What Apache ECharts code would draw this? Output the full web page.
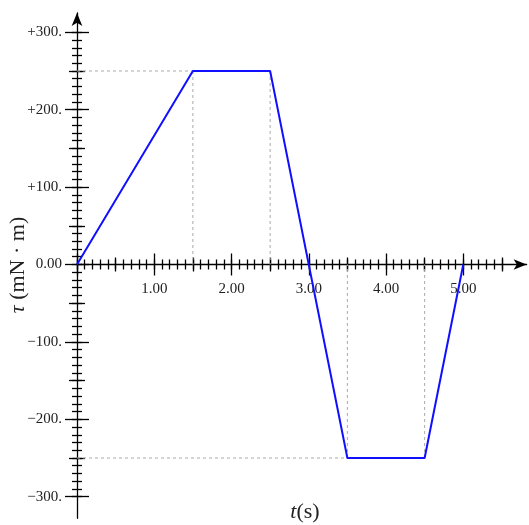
<!DOCTYPE html>
<html>
<head>
<meta charset="utf-8">
<script src="https://cdn.jsdelivr.net/npm/echarts@6/dist/echarts.min.js"></script>
<style>html,body{margin:0;padding:0;background:#fff;}#c{width:529px;height:525px;}</style>
</head>
<body>
<div id="c"></div>
<script>
// Data
var timeS = [0, 1.5, 2.5, 3.5, 4.5, 5.0];
var torque = [0, 250, 250, -250, -250, 0];
var xTickLabels = [1, 2, 3, 4, 5];
var yTickLabels = [-300, -200, -100, 0, 100, 200, 300];

var XMIN = 0, XMAX = 5.82, YMIN = -328, YMAX = 325;
var GRID_LEFT = 77, GRID_W = 449.6, GRID_TOP = 12.95, GRID_H = 505.4;

function range(a, b, step) {
  var out = [];
  var n = Math.round((b - a) / step);
  for (var i = 0; i <= n; i++) out.push(+(a + i * step).toFixed(6));
  return out;
}
var xMajor = range(0, 5, 1);
var xMed = range(0.5, 5.5, 1);
var xMinor = range(0, 5.5, 0.1);
var yMajor = range(-300, 300, 100);
var yMed = range(-250, 250, 100);
var yMinor = range(-300, 300, 10);

var serif = 'Liberation Serif';
var tickColor = '#000';

function mkX(vals, len, inside, showLine) {
  return {
    type: 'value', min: XMIN, max: XMAX, position: 'bottom',
    axisLine: { show: !!showLine, onZero: true, onZeroAxisIndex: 0,
      symbol: ['none', 'arrow'], symbolSize: [8, 13],
      lineStyle: { color: '#000', width: 1.3 } },
    axisTick: { show: true, inside: inside, length: len, customValues: vals,
      lineStyle: { color: tickColor, width: 1.3 } },
    axisLabel: { show: false },
    splitLine: { show: false }
  };
}
function fmtY(v) {
  if (v === 0) return '0.00';
  if (v > 0) return '+' + v + '.';
  return '\u2212' + Math.abs(v) + '.';
}
function mkY(vals, len, inside, showLine, labels) {
  return {
    type: 'value', min: YMIN, max: YMAX, position: 'left',
    axisLine: { show: !!showLine, onZero: true, onZeroAxisIndex: 0,
      symbol: ['none', 'arrow'], symbolSize: [8, 13],
      lineStyle: { color: '#000', width: 1.3 } },
    axisTick: { show: true, inside: inside, length: len, customValues: vals,
      lineStyle: { color: tickColor, width: 1.3 } },
    axisLabel: labels ? { show: true, customValues: labels, margin: 15,
      fontFamily: serif, fontSize: 15, color: '#222', formatter: fmtY } : { show: false },
    splitLine: { show: false }
  };
}

// label-only x axis, shifted up to the zero line
var zeroPix = GRID_TOP + GRID_H * (YMAX - 0) / (YMAX - YMIN);
var bottomPix = GRID_TOP + GRID_H;
var xLabelAxis = {
  type: 'value', min: XMIN, max: XMAX, position: 'bottom',
  offset: -(bottomPix - zeroPix),
  axisLine: { show: false, onZero: false },
  axisTick: { show: false },
  axisLabel: { show: true, customValues: xTickLabels, margin: 17,
    fontFamily: serif, fontSize: 15, color: '#222',
    formatter: function (v) { return v.toFixed(2); } },
  splitLine: { show: false }
};

var xAxes = [
  mkX(xMajor, 11, false, true),
  mkX(xMajor, 11, true),
  mkX(xMed, 7, false),
  mkX(xMed, 7, true),
  mkX(xMinor, 5, false),
  mkX(xMinor, 5, true),
  xLabelAxis
];
var yAxes = [
  mkY(yMajor, 12, false, true, yTickLabels),
  mkY(yMajor, 12, true),
  mkY(yMed, 8, false),
  mkY(yMed, 8, true),
  mkY(yMinor, 5, false),
  mkY(yMinor, 5, true)
];

var mainData = timeS.map(function (t, i) { return [t, torque[i]]; });

// guide lines from plateau corners
var guideStyle = { color: '#aaaaaa', width: 1, type: [3, 3] };
var guides = [];
[1, 2, 3, 4].forEach(function (i) {
  guides.push([[timeS[i], torque[i]], [timeS[i], 0]]);
});
guides.push([[0, torque[1]], [timeS[1], torque[1]]]);
guides.push([[0, torque[3]], [timeS[3], torque[3]]]);

var series = guides.map(function (g) {
  return { type: 'line', data: g, symbol: 'none', silent: true, z: 1,
    lineStyle: guideStyle, animation: false };
});
series.push({ type: 'line', data: mainData, symbol: 'none', z: 5,
  lineStyle: { color: '#1010ff', width: 2 }, animation: false });

var chart = echarts.init(document.getElementById('c'), null, { renderer: 'canvas' });
chart.setOption({
  animation: false,
  backgroundColor: '#fff',
  grid: { left: GRID_LEFT, top: GRID_TOP, width: GRID_W, height: GRID_H, containLabel: false, outerBoundsMode: 'none' },
  xAxis: xAxes,
  yAxis: yAxes,
  series: series,
  graphic: [
    { type: 'text', x: 305, y: 512, style: {
        text: '{i|t}(s)', rich: { i: { fontStyle: 'italic', fontFamily: serif, fontSize: 22, fill: '#222' } },
        fontFamily: serif, fontSize: 22, fill: '#222', align: 'center', verticalAlign: 'middle' } },
    { type: 'text', x: 18, y: 265, rotation: Math.PI / 2, style: {
        text: '{i|\u03c4} (mN \u00b7 m)', rich: { i: { fontStyle: 'italic', fontFamily: serif, fontSize: 22, fill: '#222' } },
        fontFamily: serif, fontSize: 22, fill: '#222', align: 'center', verticalAlign: 'middle' } }
  ]
});
</script>
</body>
</html>
